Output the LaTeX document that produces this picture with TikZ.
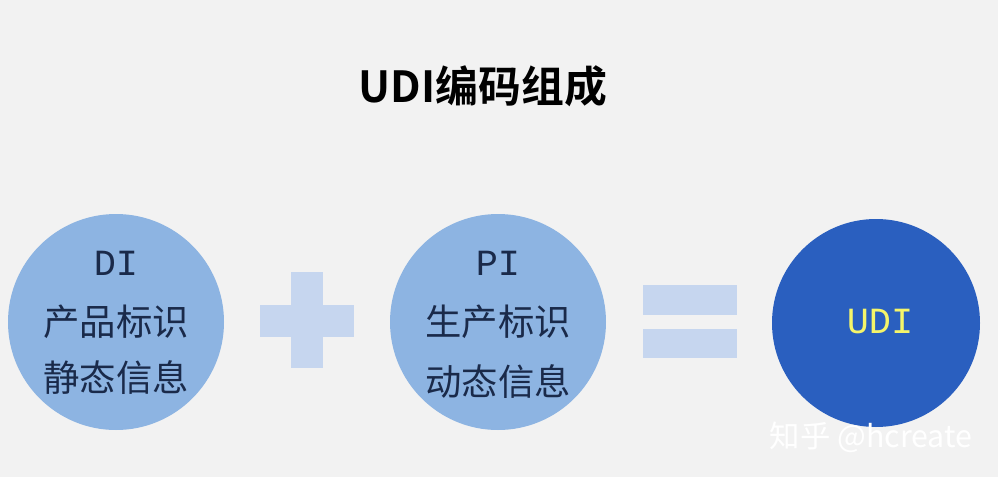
\documentclass[tikz,border=0pt]{standalone}
\usepackage{fontspec}
\newfontfamily\cjk{Noto Sans CJK SC}
\newfontfamily\cjkb{Noto Sans CJK SC Bold}
\newfontfamily\mono{Liberation Mono}
\definecolor{bg}{HTML}{F2F2F2}
\definecolor{lightc}{HTML}{8DB4E2}
\definecolor{darkc}{HTML}{2A5FBF}
\definecolor{barc}{HTML}{C6D6EF}
\definecolor{txt}{HTML}{1A2A4A}
\definecolor{udiy}{HTML}{F5F56A}
\tikzset{
  lbl/.style={font=\cjk\fontsize{20.7}{24}\selectfont, text=txt},
  code/.style={font=\mono\fontsize{21}{24}\selectfont, text=txt},
  bar/.style={fill=barc, draw=none}
}
\begin{document}
\begin{tikzpicture}[x=0.02cm,y=-0.02cm]
\fill[bg] (0,0) rectangle (998,477);
\useasboundingbox (0,0) rectangle (998,477);
\node (title) at (483,86) {\cjkb\fontsize{24.4}{28}\selectfont UDI编码组成};
\fill[lightc] (116,322) circle (108);
\fill[lightc] (498,322) circle (108);
\fill[darkc] (876,323) circle (104);
\node[code] (di) at (116,263) {DI};
\node[lbl] (d1) at (116,322) {产品标识};
\node[lbl] (d2) at (116,378) {静态信息};
\node[code] (pi) at (498,263) {PI};
\node[lbl] (p1) at (498,322) {生产标识};
\node[lbl] (p2) at (498,382) {动态信息};
\node[code, text=udiy] (udi) at (880,322) {UDI};
\fill[bar] (260,305) rectangle (354,337);
\fill[bar] (291,272) rectangle (323,368);
\fill[bar] (643,285) rectangle (737,315);
\fill[bar] (643,329) rectangle (737,358);
\node[text=white, font=\cjk\fontsize{17.3}{20}\selectfont] (wm) at (871,437) {知乎 @hcreate};
\end{tikzpicture}
\end{document}
